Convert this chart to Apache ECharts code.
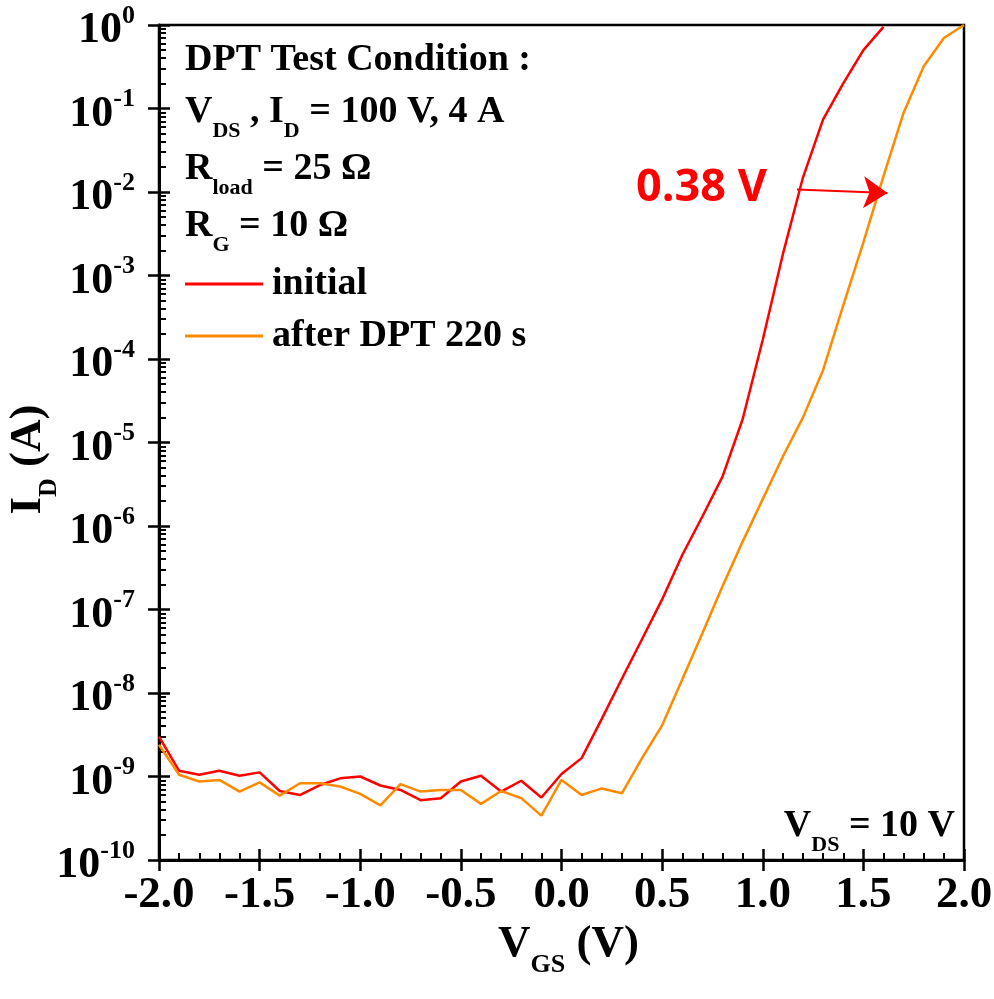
<!DOCTYPE html>
<html>
<head>
<meta charset="utf-8">
<script src="https://cdn.jsdelivr.net/npm/echarts@6/dist/echarts.min.js"></script>
<style>
  html, body { margin: 0; padding: 0; background: #fff; }
  #chart { width: 994px; height: 999px; }
</style>
</head>
<body>
<div id="chart"></div>
<script>
const vgs = [-2.0, -1.9, -1.8, -1.7, -1.6, -1.5, -1.4, -1.3, -1.2, -1.1, -1.0,
  -0.9, -0.8, -0.7, -0.6, -0.5, -0.4, -0.3, -0.2, -0.1, 0.0,
  0.1, 0.2, 0.3, 0.4, 0.5, 0.6, 0.7, 0.8, 0.9, 1.0,
  1.1, 1.2, 1.3, 1.4, 1.5, 1.6, 1.7, 1.8, 1.9, 2.0];

// I_D (A), initial -- stops at 1.6 V where it leaves the plot
const idInitial = [3.0e-9, 1.17e-9, 1.05e-9, 1.17e-9, 1.02e-9, 1.12e-9, 6.7e-10, 6.0e-10, 7.9e-10, 9.5e-10, 1.0e-9,
  7.8e-10, 6.9e-10, 5.2e-10, 5.5e-10, 8.7e-10, 1.02e-9, 6.6e-10, 8.9e-10, 5.6e-10, 1.07e-9,
  1.66e-9, 4.9e-9, 1.48e-8, 4.4e-8, 1.32e-7, 4.5e-7, 1.3e-6, 3.9e-6, 1.9e-5, 1.7e-4,
  1.8e-3, 1.5e-2, 7.4e-2, 0.2, 0.5, 0.95];

// I_D (A), after DPT 220 s
const idAfter = [2.4e-9, 1.05e-9, 8.7e-10, 9.1e-10, 6.6e-10, 8.5e-10, 5.9e-10, 8.3e-10, 8.3e-10, 7.6e-10, 6.2e-10,
  4.5e-10, 8.1e-10, 6.6e-10, 6.9e-10, 6.9e-10, 4.7e-10, 6.7e-10, 5.5e-10, 3.4e-10, 9.1e-10,
  6.0e-10, 7.2e-10, 6.3e-10, 1.66e-9, 4.1e-9, 1.45e-8, 5.2e-8, 1.9e-7, 6.5e-7, 2.1e-6,
  6.8e-6, 2.0e-5, 7.4e-5, 4.4e-4, 2.5e-3, 1.55e-2, 8.9e-2, 0.32, 0.7, 1.0];

// shift arrow: from initial curve to shifted curve at ~1e-2 A
const shiftStart = [1.17, 0.0107];
const shiftEnd = [1.62, 0.0097];

const SERIF = '"Liberation Serif", "Times New Roman", serif';
const RED = '#ff0000';
const ORANGE = '#ff8a00';

const toPairs = (ys) => ys.map((y, i) => [vgs[i], y]);

const textRich = {
  n: { fontFamily: SERIF, fontWeight: 'bold', fontSize: 38, lineHeight: 38, verticalAlign: 'top', fill: '#000', color: '#000' },
  s: { fontFamily: SERIF, fontWeight: 'bold', fontSize: 22, lineHeight: 22, verticalAlign: 'top', padding: [27, 0, 0, 0], fill: '#000', color: '#000' }
};

const titleRich = {
  n: { fontFamily: SERIF, fontWeight: 'bold', fontSize: 45, lineHeight: 46, verticalAlign: 'top', color: '#000' },
  s: { fontFamily: SERIF, fontWeight: 'bold', fontSize: 26, lineHeight: 26, verticalAlign: 'top', padding: [30, 0, 0, 0], color: '#000' }
};

const chart = echarts.init(document.getElementById('chart'));

chart.setOption({
  animation: false,
  backgroundColor: '#fff',
  grid: {
    left: 159, right: 30, top: 25, bottom: 139,
    outerBoundsMode: 'none', containLabel: false,
    show: true, borderColor: '#000', borderWidth: 2.5, backgroundColor: 'transparent'
  },
  legend: {
    left: 185, top: 265, orient: 'vertical', padding: 0,
    icon: 'rect', itemWidth: 78, itemHeight: 3, itemGap: 14,
    data: ['initial', 'after DPT 220 s'],
    textStyle: { fontFamily: SERIF, fontWeight: 'bold', fontSize: 38, lineHeight: 36, color: '#000', padding: [0, 0, 0, 4] }
  },
  xAxis: [
    {
      type: 'value', min: -2, max: 2, interval: 0.5, position: 'bottom',
      axisLine: { onZero: false, lineStyle: { color: '#000', width: 3 } },
      axisTick: { inside: true, length: 11, lineStyle: { color: '#000', width: 2.5 } },
      minorTick: { show: true, splitNumber: 5, length: 7, lineStyle: { color: '#000', width: 2 } },
      splitLine: { show: false },
      axisLabel: {
        margin: 13, color: '#000', fontFamily: SERIF, fontWeight: 'bold', fontSize: 45,
        formatter: (v) => v.toFixed(1)
      },
      name: '{n|V}{s|GS}{n| (V)}',
      nameLocation: 'middle', nameGap: 62, nameMoveOverlap: false,
      nameTextStyle: { rich: titleRich, padding: [0, 0, 0, 14] }
    },
    {
      type: 'value', min: -2, max: 2, interval: 0.5, position: 'bottom',
      axisLine: { show: false, onZero: false },
      axisTick: { inside: false, length: 11, lineStyle: { color: '#000', width: 2.5 } },
      axisLabel: { show: false }, splitLine: { show: false }
    }
  ],
  yAxis: [
    {
      type: 'log', logBase: 10, min: 1e-10, max: 1, interval: 1, splitNumber: 10, position: 'left',
      axisLine: { show: true, onZero: false, lineStyle: { color: '#000', width: 3 } },
      axisTick: { show: true, inside: true, length: 11, lineStyle: { color: '#000', width: 2.5 } },
      minorTick: { show: true, splitNumber: 9, length: 7, lineStyle: { color: '#000', width: 2 } },
      splitLine: { show: false },
      axisLabel: {
        margin: 24,
        formatter: (v) => '{b|10}{e|' + Math.round(Math.log10(v)) + '}',
        rich: {
          b: { fontFamily: SERIF, fontWeight: 'bold', fontSize: 44, lineHeight: 44, verticalAlign: 'top', padding: [6, 0, 12, 0], color: '#000' },
          e: { fontFamily: SERIF, fontWeight: 'bold', fontSize: 26, lineHeight: 26, verticalAlign: 'top', color: '#000' }
        }
      },
      name: '{n|I}{s|D}{n| (A)}',
      nameLocation: 'middle', nameGap: 107, nameRotate: 90, nameMoveOverlap: false,
      nameTextStyle: { rich: titleRich, padding: [0, 34, 0, 0] }
    },
    {
      type: 'log', logBase: 10, min: 1e-10, max: 1, interval: 1, splitNumber: 10, position: 'left',
      axisLine: { show: false, onZero: false },
      axisTick: { show: true, inside: false, length: 11, lineStyle: { color: '#000', width: 2.5 } },
      axisLabel: { show: false }, splitLine: { show: false }
    }
  ],
  series: [
    {
      name: 'initial', type: 'line', data: toPairs(idInitial),
      showSymbol: false, color: RED,
      lineStyle: { color: RED, width: 2.5 },
      markLine: {
        silent: true, symbol: ['none', 'arrow'], symbolSize: 24,
        lineStyle: { color: RED, width: 2, type: 'solid' },
        label: {
          show: true, position: 'start', distance: 30, formatter: '0.38 V',
          color: RED, fontFamily: '"Open Sans", sans-serif', fontWeight: 'bold', fontSize: 45
        },
        data: [[{ coord: shiftStart }, { coord: shiftEnd }]]
      }
    },
    {
      name: 'after DPT 220 s', type: 'line', data: toPairs(idAfter),
      showSymbol: false, color: ORANGE,
      lineStyle: { color: ORANGE, width: 2.5 }
    }
  ],
  graphic: [
    { type: 'text', x: 185, y: 60, style: { text: '{n|DPT Test Condition :}', rich: textRich, verticalAlign: 'middle' } },
    { type: 'text', x: 185, y: 112, style: { text: '{n|V}{s|DS}{n| , I}{s|D}{n| = 100 V, 4 A}', rich: textRich, verticalAlign: 'middle' } },
    { type: 'text', x: 185, y: 169, style: { text: '{n|R}{s|load}{n| = 25 Ω}', rich: textRich, verticalAlign: 'middle' } },
    { type: 'text', x: 185, y: 226, style: { text: '{n|R}{s|G}{n| = 10 Ω}', rich: textRich, verticalAlign: 'middle' } },
    { type: 'text', x: 955, y: 826, style: { text: '{n|V}{s|DS}{n| = 10 V}', rich: textRich, verticalAlign: 'middle', align: 'right' } }
  ]
});
</script>
</body>
</html>
